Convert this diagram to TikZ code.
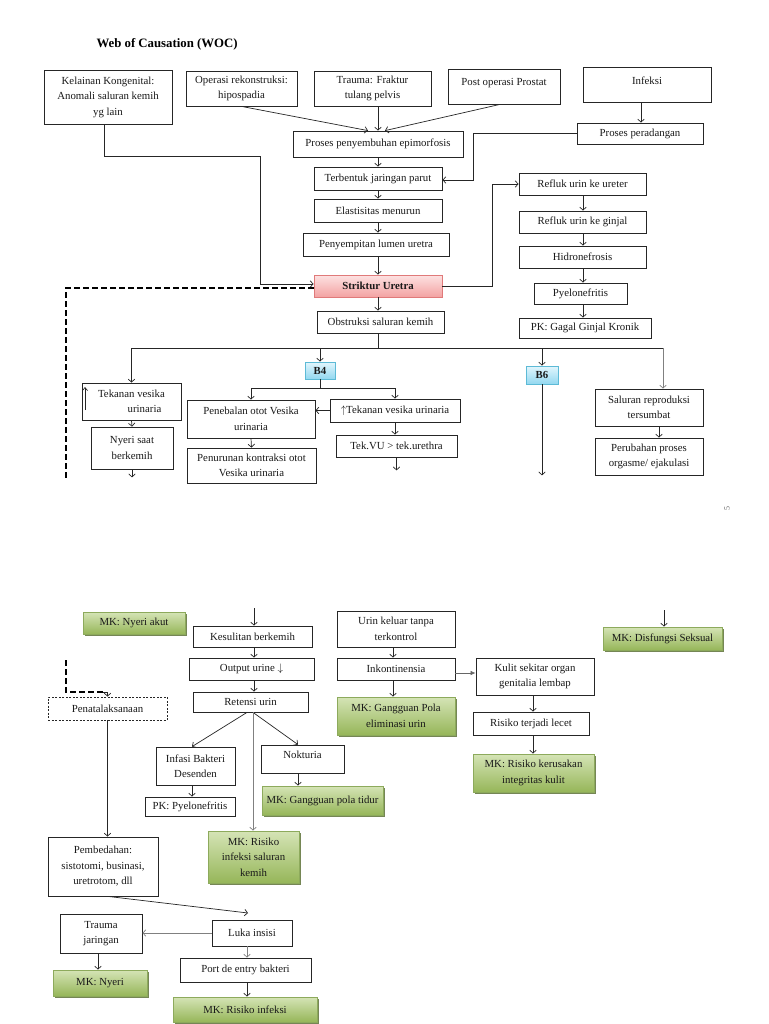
\documentclass[tikz,border=0pt]{standalone}
\usepackage{fontspec}
\setmainfont{Liberation Serif}
\usetikzlibrary{arrows.meta,shadows}
\definecolor{mkTop}{HTML}{D5E4B6}
\definecolor{mkBot}{HTML}{96B659}
\definecolor{mkDraw}{HTML}{8DAA5C}
\definecolor{mkShadow}{HTML}{5E7138}
\definecolor{redTop}{HTML}{FDE2E2}
\definecolor{redBot}{HTML}{F3A2A2}
\definecolor{redDraw}{HTML}{E07A7A}
\definecolor{blueTop}{HTML}{E2F6FD}
\definecolor{blueBot}{HTML}{93D8F0}
\definecolor{blueDraw}{HTML}{5DBAD6}
\newcommand\nf{\fontsize{10.8}{15.5}\selectfont}
\newcommand\bx[7]{\node[#1,minimum width={(#5-#3)*1pt},minimum height={(#6-#4)*1pt}] (#2) at ({(#3+#5)/2},{(#4+#6)/2}) {#7};}
\tikzset{
 base/.style={align=center, inner sep=1pt, font=\nf, text=black!90},
 box/.style={base, draw=black!85, line width=0.8pt, fill=white},
 mk/.style={base, draw=mkDraw, line width=0.8pt, top color=mkTop, bottom color=mkBot,
   drop shadow={shadow xshift=1.6pt, shadow yshift=-1.6pt, fill=mkShadow, opacity=0.85}},
 strik/.style={base, draw=redDraw, line width=0.8pt, top color=redTop, bottom color=redBot, font=\nf\bfseries,
   drop shadow={shadow xshift=1pt, shadow yshift=-1pt, fill=black!30, opacity=0.6}},
 bbox/.style={base, draw=blueDraw, line width=0.8pt, top color=blueTop, bottom color=blueBot, font=\nf\bfseries,
   drop shadow={shadow xshift=1pt, shadow yshift=-1pt, fill=black!30, opacity=0.6}},
 dbox/.style={base, draw=black!85, line width=0.8pt, fill=white, dash pattern=on 2pt off 1.5pt},
 ln/.style={draw=black!85, line width=0.7pt},
 arr/.style={ln, -{Straight Barb[length=3pt,width=6.5pt]}},
 garr/.style={arr, draw=black!50},
 farr/.style={draw=black!60, line width=0.7pt, -{Latex[length=5pt,width=4.5pt]}},
 bigdash/.style={draw=black, line width=1.7pt, dash pattern=on 5.5pt off 3.5pt},
}
\begin{document}
\begin{tikzpicture}[x=1pt,y=-1pt]
\useasboundingbox (0,0) rectangle (768,1024);
\fill[white] (0,0) rectangle (768,1024);

% column / helper coordinates
\foreach \c in {66,98,104,107,108,192,247,248,253,254,260,298,368,378,385,393,473,492,500,533,583,641,659,663}
  {\coordinate (X\c) at (\c,0);}

\node[font=\fontsize{12.8}{15}\selectfont\bfseries, anchor=west] (title) at (93,44) {Web of Causation (WOC)};

% ---------- page 1 ----------
\bx{box}{kel}{44}{70}{172}{124}{Kelainan Kongenital:\\Anomali saluran kemih\\yg lain}
\bx{box}{ops}{186}{71}{297}{106}{Operasi rekonstruksi:\\hipospadia}
\bx{box}{tra}{314}{71}{431}{106}{Trauma: Fraktur\\tulang pelvis}
\bx{box}{pos}{448}{69}{560}{104}{\raisebox{1pt}[0pt][0pt]{Post operasi Prostat}}
\bx{box}{inf}{583}{67}{711}{102}{\raisebox{0pt}[0pt][0pt]{Infeksi}}
\bx{box}{epi}{293}{131}{463}{157}{Proses penyembuhan epimorfosis}
\bx{box}{per}{577}{123}{703}{144}{Proses peradangan}
\bx{box}{ter}{314}{167}{442}{190}{Terbentuk jaringan parut}
\bx{box}{ela}{314}{199}{442}{222}{Elastisitas menurun}
\bx{box}{pen}{303}{233}{449}{256}{Penyempitan lumen uretra}
\bx{strik}{str}{314}{275}{442}{297}{Striktur Uretra}
\bx{box}{obs}{317}{311}{444}{333}{Obstruksi saluran kemih}
\bx{box}{ru}{519}{173}{646}{195}{Refluk urin ke ureter}
\bx{box}{rg}{519}{211}{646}{233}{Refluk urin ke ginjal}
\bx{box}{hid}{519}{246}{646}{268}{Hidronefrosis}
\bx{box}{pye}{534}{283}{627}{304}{Pyelonefritis}
\bx{box}{pk}{519}{318}{651}{338}{PK: Gagal Ginjal Kronik}
\bx{bbox}{b4}{305}{362}{335}{379}{B4}
\bx{bbox}{b6}{526}{366}{558}{384}{B6}
\bx{box}{tvl}{82}{383}{181}{420}{Tekanan vesika\\\hspace*{26pt}urinaria}
\draw[ln, -{Straight Barb[length=3pt,width=5pt]}] (85,410) -- (85,387);
\bx{box}{nye}{91}{427}{173}{469}{Nyeri saat\\berkemih}
\bx{box}{peb}{187}{400}{315}{438}{Penebalan otot Vesika\\urinaria}
\bx{box}{pek}{187}{448}{316}{483}{Penurunan kontraksi otot\\Vesika urinaria}
\bx{box}{tvr}{330}{399}{460}{422}{$\uparrow$Tekanan vesika urinaria}
\bx{box}{tvu}{336}{435}{457}{457}{Tek.VU > tek.urethra}
\bx{box}{sal}{595}{389}{703}{426}{Saluran reproduksi\\tersumbat}
\bx{box}{pro}{595}{438}{703}{475}{Perubahan proses\\orgasme/ ejakulasi}

\coordinate (k1) at (260,156);
\coordinate (k2) at (473,180);
\coordinate (d1) at (66,478);
\coordinate (bar) at (378,348);
\coordinate (s4) at (320,388);

\draw[arr] (kel.south -| X104) |- (k1) |- ([yshift=2pt]str.west);
\draw[arr] (ops.south) -- (epi.north -| X368);
\draw[arr] (tra.south -| X378) -- (epi.north -| X378);
\draw[arr] (pos.south -| X500) -- (epi.north -| X385);
\draw[arr] (inf.south -| X641) -- (per.north -| X641);
\draw[arr] (per.west) -| (k2) -- (k2 -| ter.east);
\draw[arr] (epi.south -| X378) -- (ter.north -| X378);
\draw[arr] (ter.south -| X378) -- (ela.north -| X378);
\draw[arr] (ela.south -| X378) -- (pen.north -| X378);
\draw[arr] (pen.south -| X378) -- (str.north -| X378);
\draw[arr] (str.south -| X378) -- (obs.north -| X378);
\draw[arr] (str.east) -| (X492 |- ru.west) -- (ru.west);
\draw[arr] (ru.south -| X583) -- (rg.north -| X583);
\draw[arr] (rg.south -| X583) -- (hid.north -| X583);
\draw[arr] (hid.south -| X583) -- (pye.north -| X583);
\draw[arr] (pye.south -| X583) -- (pk.north -| X583);
\draw[bigdash] ([yshift=-2pt]str.west) -| (d1);

\draw[ln] (obs.south -| bar) -- (bar);
\draw[ln, line width=0.9pt] (tvl.north |- bar) -- (X663 |- bar);
\draw[arr] (tvl.north |- bar) -- (tvl.north);
\draw[arr] (b4.north |- bar) -- (b4.north);
\draw[arr] (b6.north |- bar) -- (b6.north);
\draw[garr] (X663 |- bar) -- (X663 |- sal.north);
\draw[ln] (b4.south) -- (s4);
\draw[ln] (s4 -| peb.north) -- (s4 -| tvr.north);
\draw[arr] (s4 -| peb.north) -- (peb.north);
\draw[arr] (s4 -| tvr.north) -- (tvr.north);
\draw[arr] (tvl.south) -- (nye.north);
\draw[arr] (nye.south) -- ++(0,8);
\draw[arr] (peb.south) -- (pek.north);
\draw[arr] (tvr.west) -- (tvr.west -| peb.east);
\draw[arr] (tvr.south) -- (tvr.south |- tvu.north);
\draw[arr] (tvu.south) -- ++(0,13);
\draw[arr] (b6.south) -- ++(0,91);
\draw[arr] (sal.south -| X659) -- (pro.north -| X659);

\node[rotate=90, font=\fontsize{8}{9}\selectfont, text=black!60] (pg5) at (727,508) {5};

% ---------- page 2 ----------
\bx{mk}{mk1}{83}{612}{185}{634}{MK: Nyeri akut}
\bx{box}{kes}{193}{626}{312}{647}{Kesulitan berkemih}
\bx{box}{out}{189}{658}{314}{680}{Output urine $\downarrow$}
\bx{box}{ret}{193}{692}{308}{712}{Retensi urin}
\bx{dbox}{pnt}{48}{697}{167}{720}{Penatalaksanaan}
\bx{box}{infb}{156}{747}{235}{785}{Infasi Bakteri\\Desenden}
\bx{box}{nok}{261}{745}{344}{773}{\raisebox{0.5pt}[0pt][0pt]{Nokturia}}
\bx{box}{pkp}{145}{797}{235}{816}{PK: Pyelonefritis}
\bx{mk}{mkt}{262}{786}{383}{815}{MK: Gangguan pola tidur}
\bx{mk}{mkr}{208}{831}{299}{883}{MK: Risiko\\infeksi saluran\\kemih}
\bx{box}{pem}{48}{837}{158}{896}{Pembedahan:\\sistotomi, businasi,\\uretrotom, dll}
\bx{box}{luk}{212}{920}{292}{946}{Luka insisi}
\bx{box}{trj}{60}{914}{142}{953}{Trauma\\jaringan}
\bx{mk}{mkn}{53}{970}{147}{996}{MK: Nyeri}
\bx{box}{por}{180}{958}{311}{982}{Port de entry bakteri}
\bx{mk}{mki}{173}{997}{317}{1022}{MK: Risiko infeksi}
\bx{box}{urk}{337}{611}{455}{647}{Urin keluar tanpa\\terkontrol}
\bx{box}{ink}{337}{658}{455}{680}{Inkontinensia}
\bx{mk}{mkg}{337}{697}{455}{735}{MK: Gangguan Pola\\eliminasi urin}
\bx{box}{kul}{476}{658}{594}{695}{Kulit sekitar organ\\genitalia lembap}
\bx{box}{ril}{473}{712}{589}{735}{Risiko terjadi lecet}
\bx{mk}{mkk}{473}{754}{594}{792}{MK: Risiko kerusakan\\integritas kulit}
\bx{mk}{mkd}{603}{627}{722}{650}{MK: Disfungsi Seksual}

\coordinate (d2) at (66,660);
\coordinate (k4) at (103,692);
\coordinate (f1) at (254,608);
\coordinate (f2) at (664,610);
\coordinate (k5) at (248,913);

\draw[bigdash] (d2) |- (k4);
\draw[arr] (k4) -| (pnt.north);
\draw[arr] (pnt.south) -- (pnt.south |- pem.north);
\draw[arr] (f1) -- (kes.north -| f1);
\draw[arr] (kes.south -| X254) -- (out.north -| X254);
\draw[arr] (out.south -| X254) -- (ret.north -| X254);
\draw[arr] (ret.south -| X247) -- (infb.north -| X192);
\draw[arr] (ret.south -| X253) -- (nok.north -| X298);
\draw[garr] (ret.south -| X253) -- (mkr.north -| X253);
\draw[arr] (infb.south -| X192) -- (pkp.north -| X192);
\draw[arr] (nok.south -| X298) -- (mkt.north -| X298);
\draw[arr] (pem.south -| X108) -- (k5);
\draw[garr] (luk.west) -- (luk.west -| trj.east);
\draw[arr] (trj.south -| X98) -- (mkn.north -| X98);
\draw[garr] (luk.south -| X247) -- (por.north -| X247);
\draw[arr] (por.south -| X247) -- (mki.north -| X247);
\draw[arr] (urk.south -| X393) -- (ink.north -| X393);
\draw[arr] (ink.south -| X393) -- (mkg.north -| X393);
\draw[farr] ([yshift=-4pt]ink.east) -- ([yshift=-4pt]ink.east -| kul.west);
\draw[arr] (kul.south -| X533) -- (ril.north -| X533);
\draw[arr] (ril.south -| X533) -- (mkk.north -| X533);
\draw[arr] (f2) -- (mkd.north -| f2);
\end{tikzpicture}
\end{document}
